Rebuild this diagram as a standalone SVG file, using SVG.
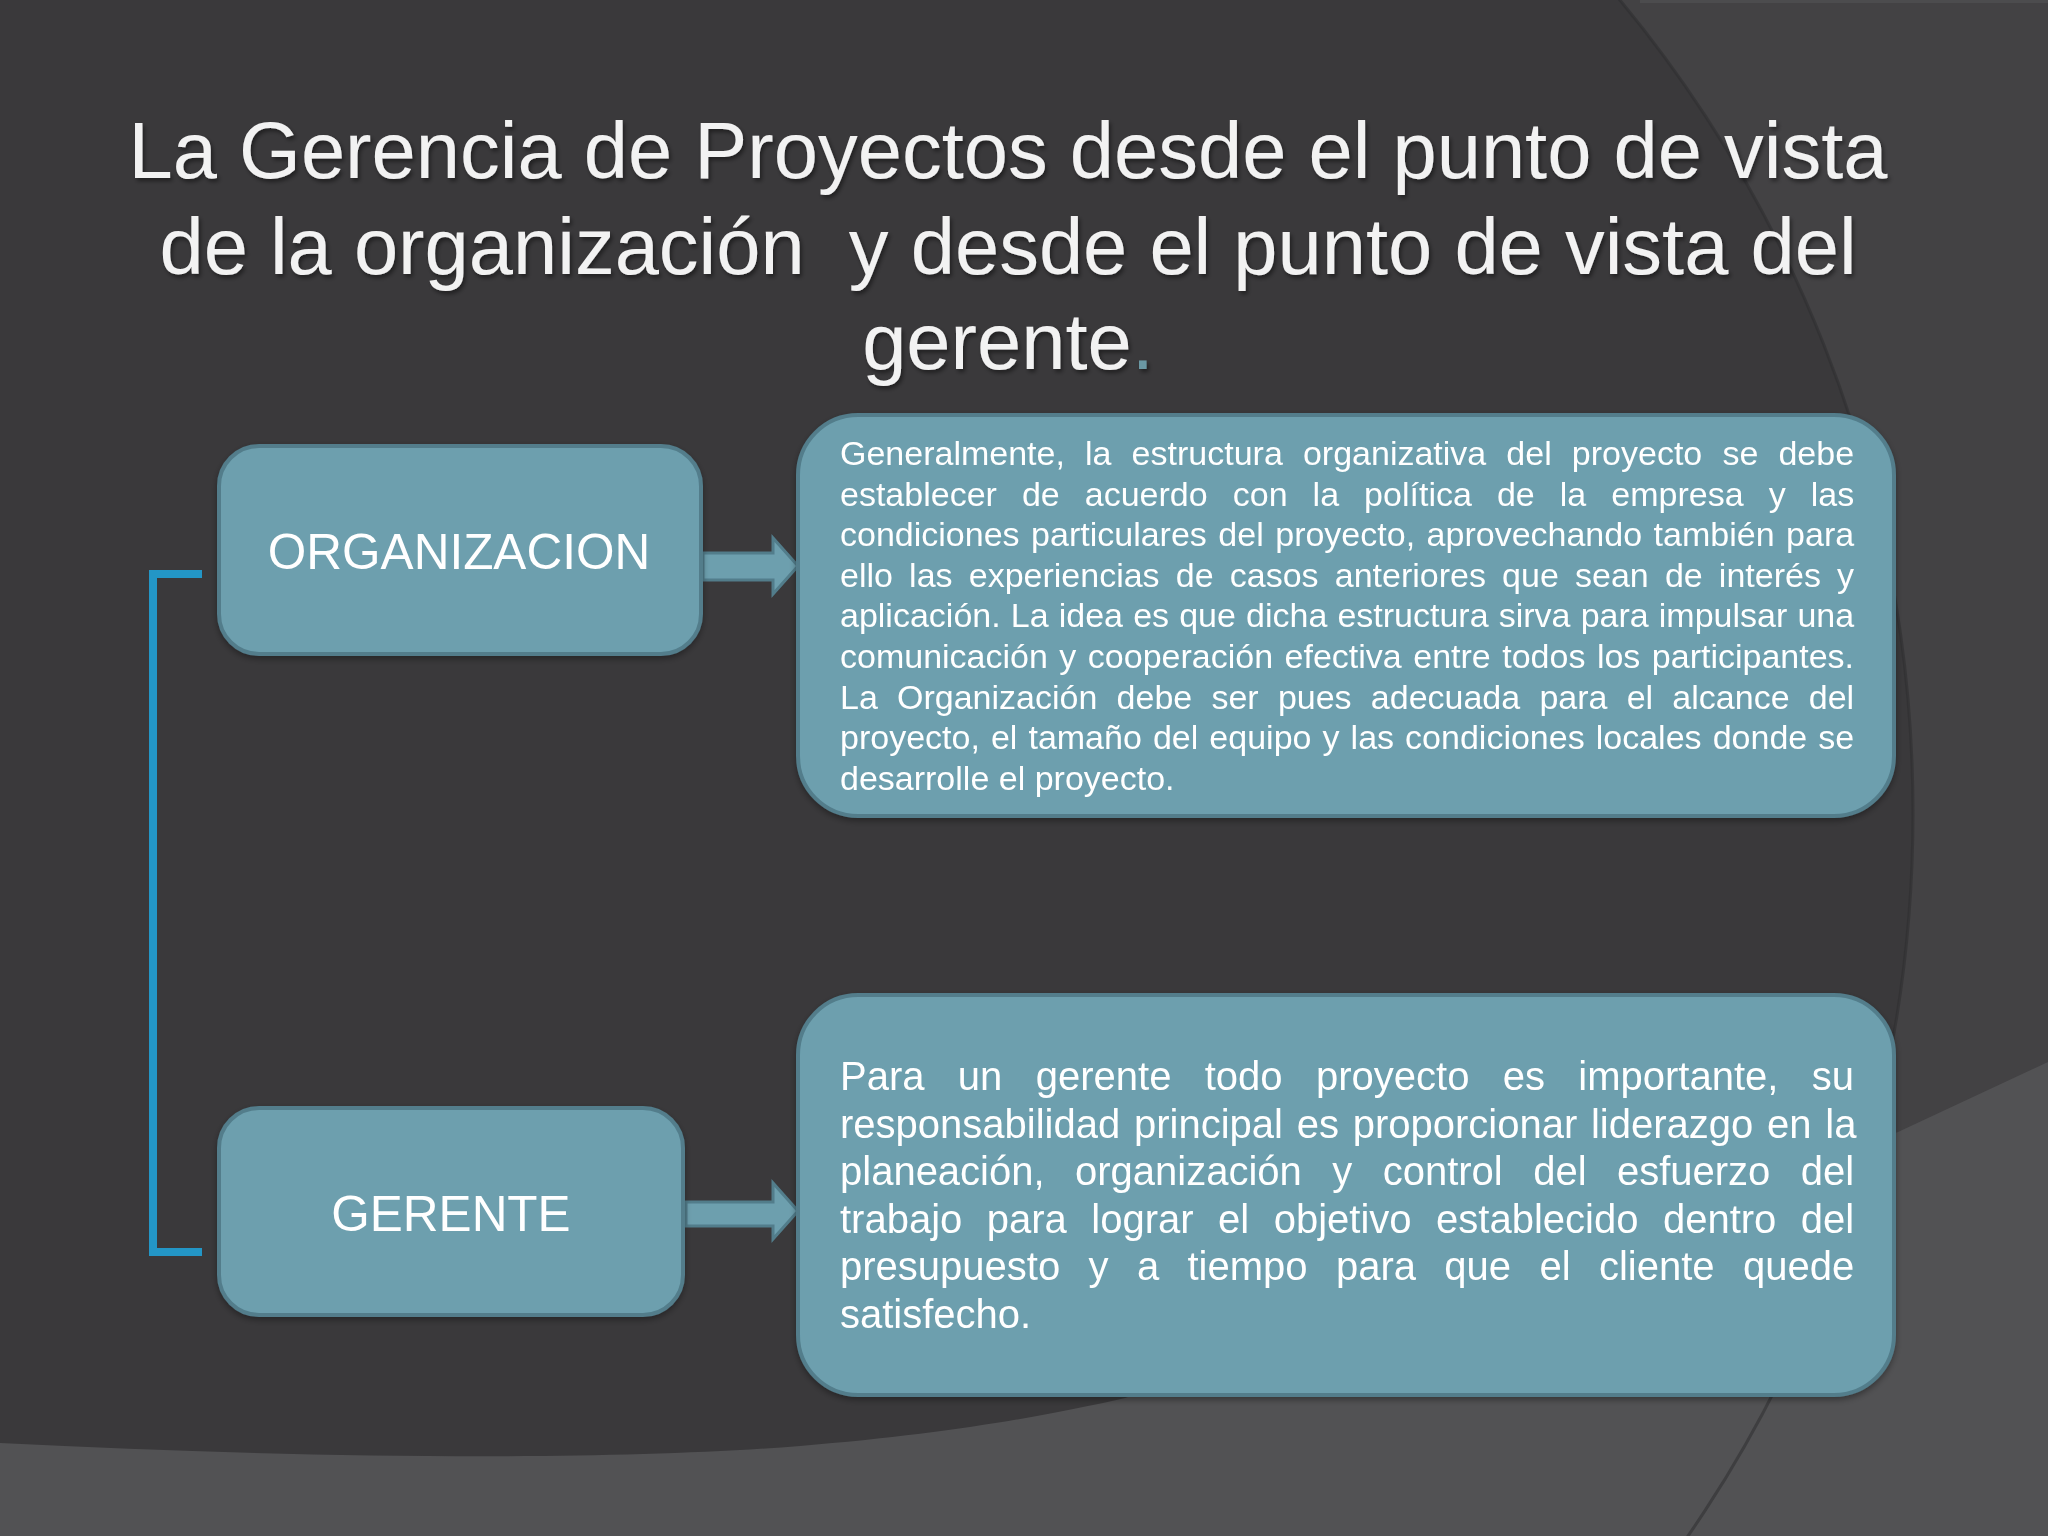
<svg xmlns="http://www.w3.org/2000/svg" width="2048" height="1536" viewBox="0 0 2048 1536">
<style>
.title{font-family:"Liberation Sans",Arial,sans-serif;font-size:79.5px;fill:#f2f2f2;text-anchor:middle}
.node rect{fill:#6d9fae;stroke:#527d8b;stroke-width:4}
.label{font-family:"Liberation Sans",Arial,sans-serif;font-size:49.5px;fill:#ffffff;text-anchor:middle}
.p34{font-family:"Liberation Sans",Arial,sans-serif;font-size:34px;fill:#ffffff}
.p40{font-family:"Liberation Sans",Arial,sans-serif;font-size:40px;fill:#ffffff}
.arrow{fill:#6d9fae;stroke:#527d8b;stroke-width:3;stroke-linejoin:miter}
.bracket{fill:none;stroke:#2396c6;stroke-width:8}
</style>
<defs>
<filter id="sh" x="-5%" y="-20%" width="110%" height="150%">
<feDropShadow dx="2" dy="3" stdDeviation="2" flood-color="#000000" flood-opacity="0.45"/>
</filter>
<filter id="bs" x="-5%" y="-5%" width="110%" height="115%">
<feDropShadow dx="0" dy="3" stdDeviation="3" flood-color="#000000" flood-opacity="0.35"/>
</filter>
</defs>
<g id="background">
<rect x="0" y="0" width="2048" height="1536" fill="#434244"/>
<circle cx="639" cy="813" r="1274" fill="#3a393b"/>
<path d="M0,1443 C300,1458 600,1462 800,1446 C950,1434 1050,1415 1125,1398 L1898,1132 L2048,1062 L2048,1536 L0,1536 Z" fill="#525254"/>
<circle cx="639" cy="813" r="1274" fill="none" stroke="#2e2d2f" stroke-width="3" opacity="0.55"/>
<rect x="1640" y="0" width="408" height="3" fill="#4c4c4e"/>
</g>
<g id="title" filter="url(#sh)">
<text class="title" x="1008" y="178">La Gerencia de Proyectos desde el punto de vista</text>
<text class="title" x="1008" y="274" xml:space="preserve">de la organización  y desde el punto de vista del</text>
<text class="title" x="1008" y="369">gerente<tspan fill="#6a98a4">.</tspan></text>
</g>
<g id="connectors">
<path class="bracket" d="M202,574 H153 V1252 H202"/>
<polygon class="arrow" points="703,553 773,553 773,538 798,566 773,594 773,580 703,580"/>
<polygon class="arrow" points="686,1202 773,1202 773,1183 798,1211 773,1239 773,1226 686,1226"/>
</g>
<g id="node-organizacion" class="node" filter="url(#bs)">
<rect x="219" y="446" width="482" height="208" rx="40" ry="40"/>
<text class="label" x="459" y="569">ORGANIZACION</text>
</g>
<g id="node-gerente" class="node" filter="url(#bs)">
<rect x="219" y="1108" width="464" height="207" rx="40" ry="40"/>
<text class="label" x="451" y="1231">GERENTE</text>
</g>
<g id="node-texto-organizacion" class="node" filter="url(#bs)">
<rect x="798" y="415" width="1096" height="401" rx="60" ry="60"/>
<text class="p34" x="840" y="465" word-spacing="10.68">Generalmente, la estructura organizativa del proyecto se debe</text>
<text class="p34" x="840" y="505.6" word-spacing="15.61">establecer de acuerdo con la política de la empresa y las</text>
<text class="p34" x="840" y="546.2" word-spacing="2.07">condiciones particulares del proyecto, aprovechando también para</text>
<text class="p34" x="840" y="586.8" word-spacing="6.72">ello las experiencias de casos anteriores que sean de interés y</text>
<text class="p34" x="840" y="627.4" word-spacing="0.68">aplicación. La idea es que dicha estructura sirva para impulsar una</text>
<text class="p34" x="840" y="668" word-spacing="2.04">comunicación y cooperación efectiva entre todos los participantes.</text>
<text class="p34" x="840" y="708.6" word-spacing="9.77">La Organización debe ser pues adecuada para el alcance del</text>
<text class="p34" x="840" y="749.2" word-spacing="1.62">proyecto, el tamaño del equipo y las condiciones locales donde se</text>
<text class="p34" x="840" y="789.8">desarrolle el proyecto.</text>
</g>
<g id="node-texto-gerente" class="node" filter="url(#bs)">
<rect x="798" y="995" width="1096" height="400" rx="60" ry="60"/>
<text class="p40" x="840" y="1090" word-spacing="22.25">Para un gerente todo proyecto es importante, su</text>
<text class="p40" x="840" y="1137.6" word-spacing="2.63">responsabilidad principal es proporcionar liderazgo en la</text>
<text class="p40" x="840" y="1185.2" word-spacing="19.30">planeación, organización y control del esfuerzo del</text>
<text class="p40" x="840" y="1232.8" word-spacing="13.37">trabajo para lograr el objetivo establecido dentro del</text>
<text class="p40" x="840" y="1280.4" word-spacing="17.25">presupuesto y a tiempo para que el cliente quede</text>
<text class="p40" x="840" y="1328">satisfecho.</text>
</g>
</svg>
